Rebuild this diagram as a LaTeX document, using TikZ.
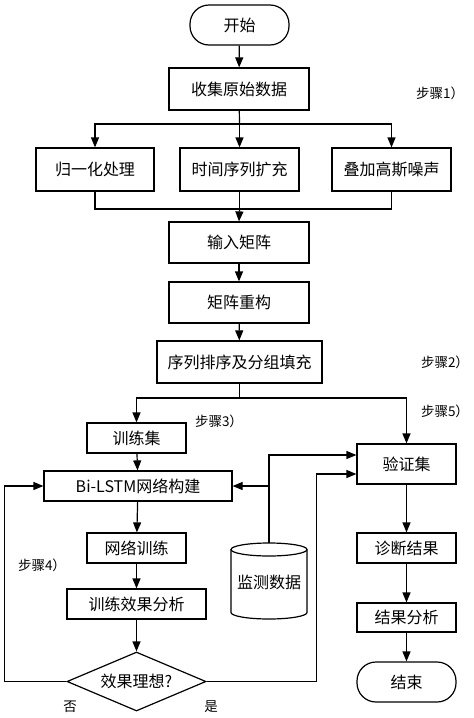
\documentclass[tikz,border=0pt]{standalone}
\usepackage{fontspec}
\setmainfont{Noto Sans CJK SC}
\usetikzlibrary{arrows.meta,shapes.geometric,calc}
\begin{document}
\begin{tikzpicture}[x=1pt,y=-1pt,
  every node/.style={font=\fontsize{16}{18}\selectfont},
  box/.style={draw,line width=1.2pt,inner sep=0pt,minimum width=#1},
  term/.style={draw,line width=1.2pt,inner sep=0pt,rounded corners=19pt,minimum width=99pt,minimum height=40pt},
  dia/.style={draw,line width=1.2pt,diamond,inner sep=0pt,minimum width=139pt,minimum height=59pt,aspect=2.36},
  lbl/.style={font=\fontsize{13.5}{15}\selectfont},
  ln/.style={line width=1.2pt},
  arr/.style={line width=1.2pt,-{Triangle[length=10pt,width=8pt]}}]
\useasboundingbox (0,0) rectangle (474,718);
% nodes
\node[term] (start) at (239.5,25) {开始};
\node[box=140pt,minimum height=42pt] (collect) at (239,89) {收集原始数据};
\node[box=118pt,minimum height=43pt] (norm) at (95,169.5) {归一化处理};
\node[box=119pt,minimum height=43pt] (time) at (239.5,169.5) {时间序列扩充};
\node[box=119pt,minimum height=43pt] (noise) at (391.5,169.5) {叠加高斯噪声};
\node[box=140pt,minimum height=41pt] (input) at (239,242.5) {输入矩阵};
\node[box=140pt,minimum height=41pt] (recon) at (239,302.5) {矩阵重构};
\node[box=165pt,minimum height=42pt] (seq) at (239.5,362) {序列排序及分组填充};
\node[box=99pt,minimum height=30pt] (train) at (136.5,438) {训练集};
\node[box=188pt,minimum height=30pt] (bilstm) at (138,486) {Bi-LSTM网络构建};
\node[box=99pt,minimum height=30pt] (net) at (136.5,548) {网络训练};
\node[box=139pt,minimum height=30pt] (anal) at (136.5,604) {训练效果分析};
\node[dia] (dec) at (136.5,681.5) {效果理想?};
\node[box=99pt,minimum height=40pt] (val) at (406.5,464) {验证集};
\node[box=99pt,minimum height=30pt] (diag) at (406.5,548) {诊断结果};
\node[box=99pt,minimum height=29pt] (res) at (406.5,617.5) {结果分析};
\node[term] (end) at (406.5,682) {结束};
% cylinder
\draw[ln] (231,549.5) -- (231,612.5) arc[start angle=180,end angle=0,x radius=38,y radius=6.5] -- (307,549.5);
\draw[ln] (269,549.5) ellipse[x radius=38,y radius=6.5];
\node (cyl) at (269,582) {监测数据};
\coordinate (ctop) at (269,543);
% labels
\node[lbl] (s1) at (440,93) {步骤1）};
\node[lbl] (s2) at (445,362) {步骤2）};
\node[lbl] (s3) at (219,421) {步骤3）};
\node[lbl] (s5) at (445,411) {步骤5）};
\node[lbl] (s4) at (42,565) {步骤4）};
\node[lbl] (no) at (70,707) {否};
\node[lbl] (yes) at (211,707) {是};
% connectors
\coordinate (b1) at (239.5,124);
\coordinate (m1) at (239.5,209);
\coordinate (b2) at (239.5,398);
\draw[arr] (start) -- (collect);
\draw[ln] (collect) -- (b1);
\draw[arr] (b1) -| (norm.north);
\draw[arr] (b1) -| (noise.north);
\draw[arr] (b1) -- (time.north);
\draw[ln] (norm.south) |- (m1);
\draw[ln] (noise.south) |- (m1);
\draw[ln] (time.south) -- (m1);
\draw[arr] (m1) -- (input.north);
\draw[arr] (input) -- (recon);
\draw[arr] (recon) -- (seq);
\draw[ln] (seq) -- (b2);
\draw[arr] (b2) -| (train.north);
\draw[arr] (b2) -| (val.north);
\draw[arr] (train) -- (bilstm);
\draw[arr] (bilstm) -- (net);
\draw[arr] (net) -- (anal);
\draw[arr] (anal) -- (dec);
\draw[arr] (ctop) |- ($(val.west)+(0,-9)$);
\draw[arr] (ctop |- bilstm.east) -- (bilstm.east);
\draw[arr] (dec.west) -- ++(-62,0) |- (bilstm.west);
\draw[arr] (dec.east) -- ++(110,0) |- ($(val.west)+(0,10)$);
\draw[arr] (val) -- (diag);
\draw[arr] (diag) -- (res);
\draw[arr] (res) -- (end);
\end{tikzpicture}
\end{document}
